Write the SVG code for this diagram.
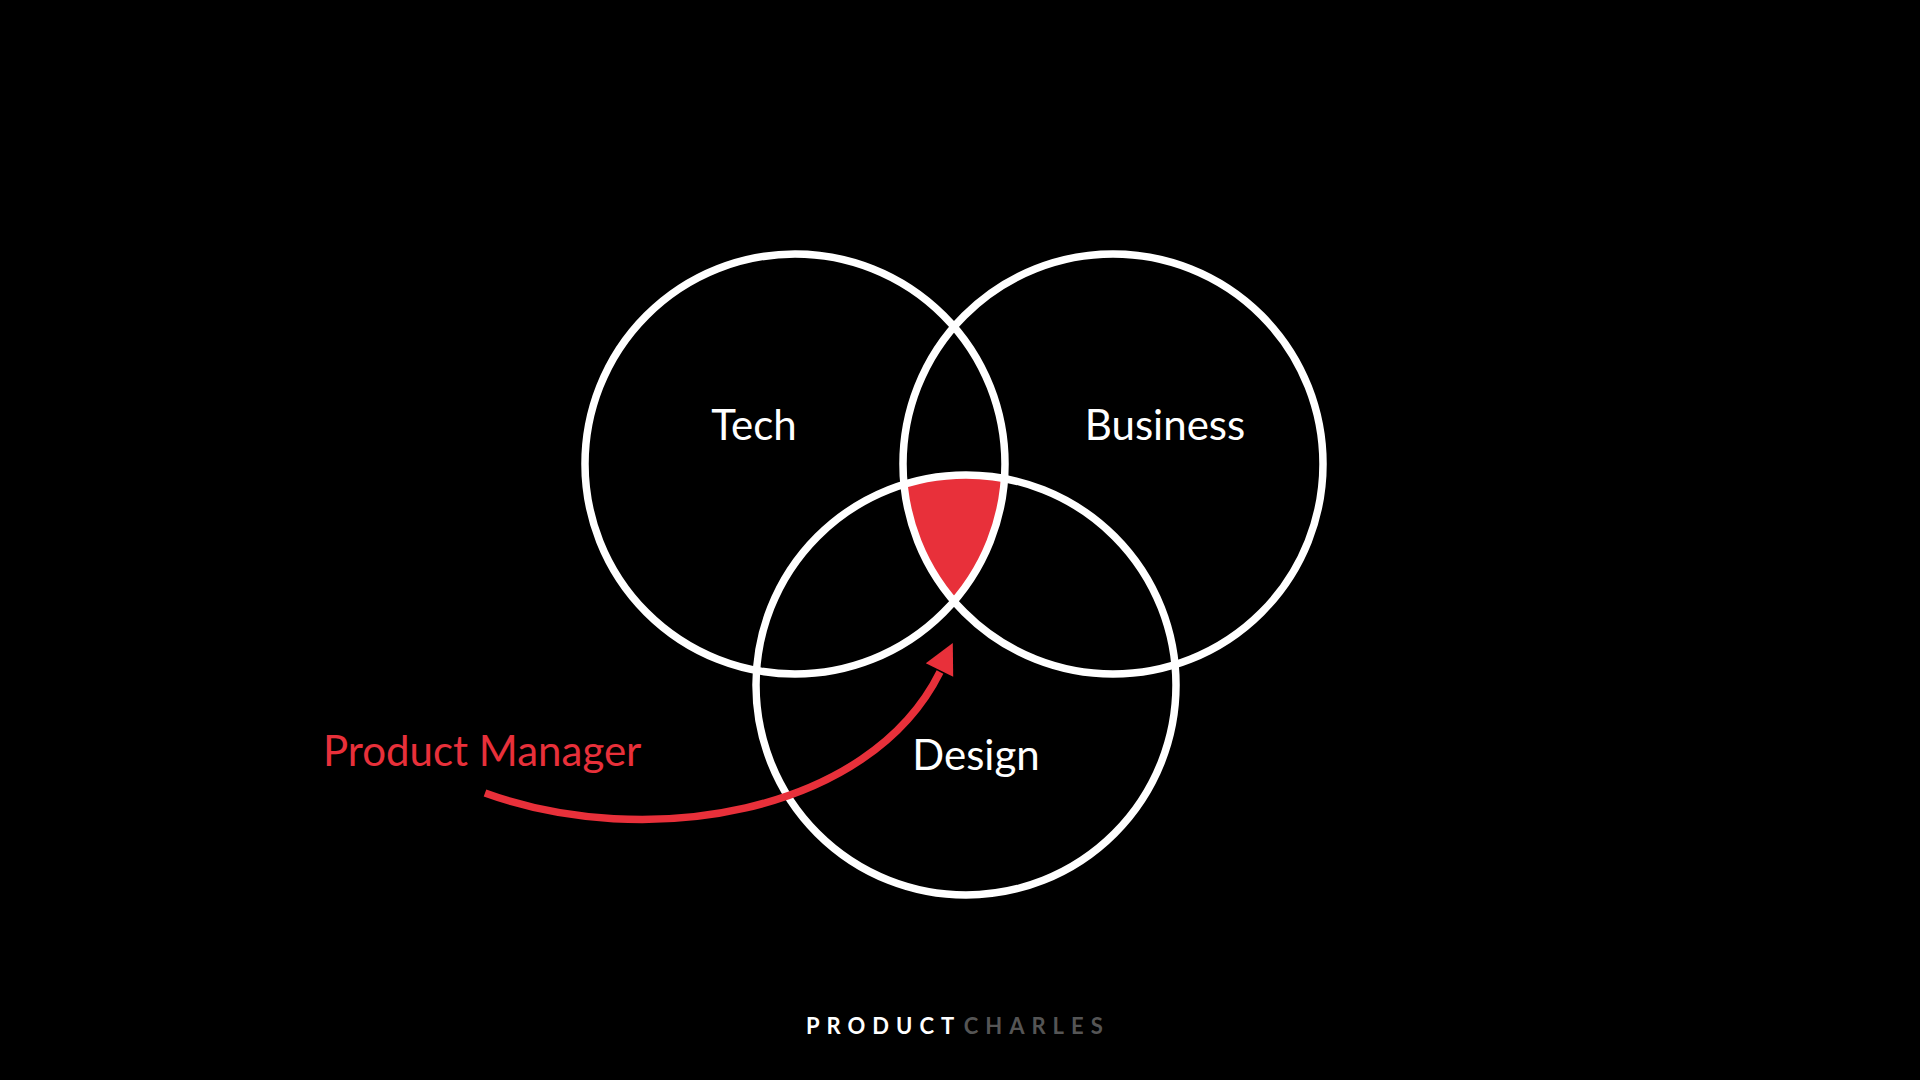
<svg xmlns="http://www.w3.org/2000/svg" width="1920" height="1080" viewBox="0 0 1920 1080">
  <defs>
    <style>
      .ring { fill: none; stroke: #ffffff; stroke-width: 7.5; }
      .label { font-family: Lato, "Open Sans", "Liberation Sans", sans-serif; font-size: 42px; fill: #ffffff; text-anchor: middle; }
      .pm { font-family: Lato, "Open Sans", "Liberation Sans", sans-serif; font-size: 42px; fill: #e8303a; }
      .brand { font-family: Lato, "Open Sans", "Liberation Sans", sans-serif; font-size: 22px; font-weight: 700; letter-spacing: 7px; }
    </style>
    <clipPath id="clipBiz"><circle cx="1113" cy="464" r="210"/></clipPath>
    <clipPath id="clipDesign"><circle cx="966" cy="685" r="210"/></clipPath>
  </defs>
  <rect x="0" y="0" width="1920" height="1080" fill="#000000"/>

  <g id="overlap">
    <g clip-path="url(#clipDesign)">
      <circle cx="795" cy="464" r="210" fill="#e8303a" clip-path="url(#clipBiz)"/>
    </g>
  </g>

  <g id="tech">
    <circle class="ring" cx="795" cy="464" r="210"/>
    <text class="label" x="754" y="440">Tech</text>
  </g>
  <g id="business">
    <circle class="ring" cx="1113" cy="464" r="210"/>
    <text class="label" x="1165" y="440">Business</text>
  </g>
  <g id="design">
    <circle class="ring" cx="966" cy="685" r="210"/>
    <text class="label" x="976" y="770">Design</text>
  </g>

  <g id="product-manager">
    <text class="pm" x="323" y="766">Product Manager</text>
  </g>

  <g id="connectors">
    <path d="M485,793 C645,851 869,815 940,672" fill="none" stroke="#e8303a" stroke-width="7.5"/>
    <polygon points="952.8,643.1 925.8,663.2 953.2,676.8" fill="#e8303a"/>
  </g>

  <g id="footer">
    <text class="brand" x="806" y="1034"><tspan fill="#ffffff">PRODUCT</tspan><tspan fill="#555555" dx="3">CHARLES</tspan></text>
  </g>
</svg>
